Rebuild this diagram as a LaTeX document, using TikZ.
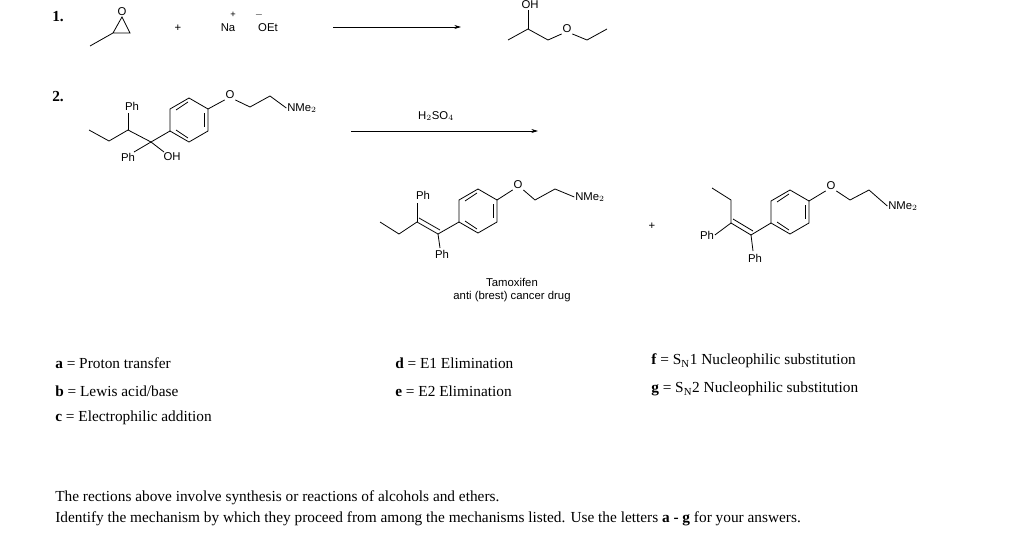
\documentclass[tikz,border=0pt]{standalone}
\usepackage{fontspec}
\setmainfont{Liberation Serif}
\setsansfont{Liberation Sans}
\tikzset{
 lab/.style={font=\sffamily\fontsize{8.5}{9}\selectfont,inner sep=0.5pt},
 txt/.style={font=\fontsize{11.5}{13}\selectfont,anchor=west,inner sep=0pt},
 bd/.style={line width=0.6pt},
 arr/.style={line width=0.6pt,-{Stealth[length=5pt,width=3pt]}}
}
\usetikzlibrary{arrows.meta}
\newcommand{\myring}[2]{%
 \draw[bd] (#1,#2-22) -- (#1+19,#2-11) -- (#1+19,#2+11) -- (#1,#2+22) -- (#1-19,#2+11) -- (#1-19,#2-11) -- cycle;
 \draw[bd] (#1+15,#2-7) -- (#1+15,#2+7);
 \draw[bd] (#1-1,#2+18) -- (#1-13,#2+10);
 \draw[bd] (#1-13,#2-10) -- (#1-1,#2-18);
}
\begin{document}
\begin{tikzpicture}[x=0.75pt,y=-0.75pt]
\fill[white] (0,0) rectangle (1024,543);
\useasboundingbox (0,0) rectangle (1024,543);
% reaction 1
\node[font=\bfseries\fontsize{11.5}{13}\selectfont] (n1) at (58,17) {1.};
\node[lab] (eo) at (122,12) {O};
\draw[bd] (113,33) -- (130,33) -- (eo.south) -- (113,33) -- (90,46);
\node[lab] (p1) at (178,28) {+};
\node[lab] (na) at (228,28) {Na};
\node[lab,font=\sffamily\fontsize{7}{7}\selectfont] (nap) at (233,15) {+};
\node[lab] (oet) at (268,28) {OEt};
\node[lab,font=\sffamily\fontsize{7}{7}\selectfont] (oetm) at (259,15) {$-$};
\coordinate (a1s) at (333,27); \coordinate (a1e) at (461,27);
\draw[arr] (a1s) -- (a1e);
\node[lab] (poh) at (530,5) {OH};
\node[lab] (po) at (567,29) {O};
\draw[bd] (508,40) -- (528,29) -- (548,40) -- (po.south west);
\draw[bd] (po.south east) -- (587,40) -- (607,29);
\draw[bd] (528,29) -- (poh.south -| 528,0);
% reaction 2
\node[font=\bfseries\fontsize{11.5}{13}\selectfont] (n2) at (58,97) {2.};
\node[lab] (rph1) at (132,106) {Ph};
\node[lab] (rph2) at (128,157) {Ph};
\node[lab] (roh) at (172,157) {OH};
\draw[bd] (89,130) -- (109,141) -- (128,130) -- (151,142) -- (170,131);
\draw[bd] (128,130) -- (128,113);
\draw[bd] (151,142) -- (134,152);
\draw[bd] (151,142) -- (164,152);
\myring{189}{120}
\node[lab] (ro) at (230,95) {O};
\node[lab] (rn) at (302,108) {NMe$_2$};
\draw[bd] (208,109) -- (ro.south west);
\draw[bd] (ro.south east) -- (250,107) -- (270,96) -- (rn.west);
\coordinate (a2s) at (351,131); \coordinate (a2e) at (538,131);
\draw[arr] (a2s) -- (a2e);
\node[lab] (h2so4) at (436,116) {H$_2$SO$_4$};
% tamoxifen
\node[lab] (tph1) at (423,195) {Ph};
\node[lab] (tph2) at (442,254) {Ph};
\draw[bd] (380,222) -- (399,234) -- (417,222);
\draw[bd] (417,222) -- (438,234);
\draw[bd] (419,218) -- (440,230);
\draw[bd] (417,222) -- (417,203);
\draw[bd] (438,234) -- (440,248);
\draw[bd] (438,234) -- (459,222);
\myring{478}{211}
\node[lab] (to) at (518,185) {O};
\node[lab] (tn) at (590,197) {NMe$_2$};
\draw[bd] (497,200) -- (to.south west);
\draw[bd] (to.south east) -- (535,200) -- (555,189) -- (tn.west);
\node[lab] (tplus) at (652,226) {+};
\node[font=\sffamily\fontsize{8.5}{10}\selectfont,align=center] (tname) at (512,290) {Tamoxifen\\anti (brest) cancer drug};
% second product
\node[lab] (sph1) at (707,235) {Ph};
\node[lab] (sph2) at (755,258) {Ph};
\draw[bd] (712,188) -- (731,200) -- (731,223);
\draw[bd] (731,223) -- (751,235);
\draw[bd] (733,219) -- (753,231);
\draw[bd] (731,223) -- (sph1.east);
\draw[bd] (751,235) -- (753,251);
\draw[bd] (751,235) -- (771,223);
\myring{790}{212}
\node[lab] (so) at (831,186) {O};
\node[lab] (sn) at (903,206) {NMe$_2$};
\draw[bd] (809,201) -- (so.south west);
\draw[bd] (so.south east) -- (850,200) -- (869,190) -- (sn.west);
% legend
\node[txt] (la) at (55,363) {\textbf{a} = Proton transfer};
\node[txt] (lb) at (55,391) {\textbf{b} = Lewis acid/base};
\node[txt] (lc) at (55,418) {\textbf{c} = Electrophilic addition};
\node[txt] (ld) at (395,363) {\textbf{d} = E1 Elimination};
\node[txt] (le) at (395,391) {\textbf{e} = E2 Elimination};
\node[txt] (lf) at (651,361) {\textbf{f} = S$_{\mathrm N}$1 Nucleophilic substitution};
\node[txt] (lg) at (651,389) {\textbf{g} = S$_{\mathrm N}$2 Nucleophilic substitution};
\node[txt] (q1) at (55,498) {The rections above involve synthesis or reactions of alcohols and ethers.};
\node[txt] (q2) at (55,519) {Identify the mechanism by which they proceed from among the mechanisms listed. Use the letters \textbf{a - g} for your answers.};
\end{tikzpicture}
\end{document}
